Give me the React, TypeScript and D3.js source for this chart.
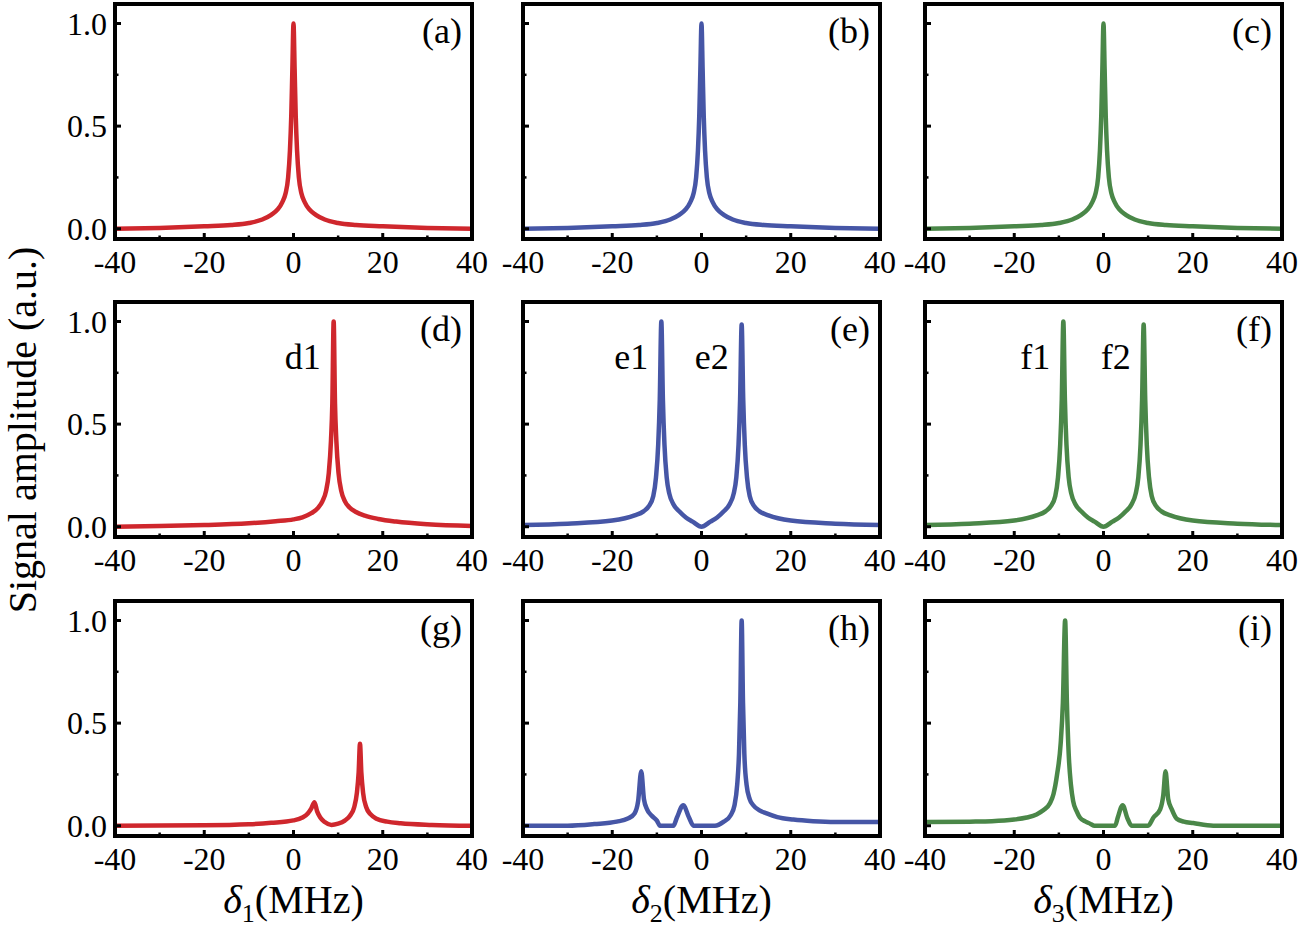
import React from 'react';
import * as d3 from 'd3';

// detuning axis, MHz
const xTicks = [-40, -20, 0, 20, 40];
const xMinorTicks = [-30, -10, 10, 30];
const yTicks = [0, 0.5, 1.0];
const yTickLabels = ['0.0', '0.5', '1.0'];
const yMinorTicks = [0.25, 0.75];

const panelLetters = ['(a)', '(b)', '(c)', '(d)', '(e)', '(f)', '(g)', '(h)', '(i)'];

// [detuning, amplitude]
const singleCenter: [number, number][] = [
  [-40, 0.0], [-30, 0.004], [-20, 0.012], [-14, 0.018], [-10, 0.028], [-7, 0.045],
  [-5, 0.068], [-3.5, 0.095], [-2.5, 0.13], [-1.8, 0.17], [-1.2, 0.25], [-0.8, 0.38],
  [-0.5, 0.55], [-0.25, 0.78], [0, 1.0], [0.25, 0.78], [0.5, 0.55], [0.8, 0.38],
  [1.2, 0.25], [1.8, 0.17], [2.5, 0.13], [3.5, 0.095], [5, 0.068], [7, 0.045],
  [10, 0.028], [14, 0.018], [20, 0.012], [30, 0.004], [40, 0.0],
];

const singleShifted: [number, number][] = [
  [-40, 0.0], [-30, 0.003], [-20, 0.008], [-10, 0.017], [-4, 0.027], [0, 0.036],
  [2, 0.046], [4, 0.066], [5.5, 0.092], [6.5, 0.125], [7.3, 0.175], [7.9, 0.26],
  [8.4, 0.42], [8.7, 0.6], [9, 1.0], [9.3, 0.6], [9.6, 0.42], [10.1, 0.26],
  [10.7, 0.175], [11.5, 0.125], [12.5, 0.095], [14, 0.072], [16, 0.054], [19, 0.038],
  [23, 0.025], [30, 0.012], [40, 0.004],
];

const doublePeak: [number, number][] = [
  [-40, 0.008], [-30, 0.015], [-20, 0.03], [-15, 0.055], [-13, 0.075], [-11.8, 0.1],
  [-10.8, 0.15], [-10.2, 0.24], [-9.7, 0.4], [-9.35, 0.62], [-9, 1.0], [-8.65, 0.62],
  [-8.3, 0.4], [-7.8, 0.24], [-7.2, 0.16], [-6.3, 0.11], [-5, 0.075], [-3.5, 0.045],
  [-2, 0.025], [0, 0.0], [2, 0.025], [3.5, 0.045], [5, 0.075], [6.3, 0.11],
  [7.2, 0.16], [7.8, 0.24], [8.3, 0.4], [8.65, 0.62], [9, 0.985], [9.35, 0.62],
  [9.7, 0.4], [10.2, 0.24], [10.8, 0.15], [11.8, 0.1], [13, 0.075], [15, 0.055],
  [20, 0.03], [30, 0.015], [40, 0.008],
];

const tripleG: [number, number][] = [
  [-40, 0], [-20, 0.002], [-10, 0.007], [-5, 0.014], [0, 0.026], [2, 0.04],
  [3.2, 0.06], [4, 0.085], [4.7, 0.115], [5.3, 0.07], [6, 0.04], [7, 0.018],
  [8.5, 0.004], [10, 0.01], [11.5, 0.025], [12.7, 0.05], [13.6, 0.09], [14.2, 0.16],
  [14.6, 0.26], [14.9, 0.4], [15.2, 0.26], [15.6, 0.16], [16.3, 0.09], [17.3, 0.055],
  [18.6, 0.034], [21, 0.02], [24, 0.012], [31, 0.004], [40, 0],
];

const tripleH: [number, number][] = [
  [-40, 0], [-30, 0], [-24, 0.008], [-19, 0.02], [-16.5, 0.035], [-15, 0.06],
  [-14.2, 0.12], [-13.5, 0.265], [-12.9, 0.13], [-12.2, 0.08], [-11.2, 0.05], [-10, 0.025],
  [-9.3, 0.0], [-6.3, 0.0], [-5.5, 0.04], [-4.1, 0.1], [-2.8, 0.04], [-1.8, 0.0],
  [3, 0.0], [5, 0.02], [6.5, 0.05], [7.4, 0.1], [8, 0.2], [8.4, 0.35], [8.7, 0.6],
  [9, 1.0], [9.3, 0.6], [9.6, 0.35], [10.1, 0.2], [10.8, 0.13], [11.6, 0.1], [13, 0.075],
  [14.6, 0.06], [17, 0.042], [20.6, 0.03], [25, 0.022], [30, 0.018], [40, 0.018],
];

const tripleI: [number, number][] = [
  [-40, 0.018], [-30, 0.02], [-25, 0.022], [-20, 0.03], [-17.2, 0.04], [-15, 0.055],
  [-13.5, 0.075], [-12, 0.11], [-11.2, 0.155], [-10.4, 0.25], [-9.6, 0.4], [-9.1, 0.6],
  [-8.6, 1.0], [-8.2, 0.6], [-7.8, 0.35], [-7.3, 0.2], [-6.8, 0.12], [-6, 0.07],
  [-5.3, 0.04], [-4, 0.02], [-3, 0.01], [-2, 0.0], [2.6, 0.0], [3.2, 0.04], [4.3, 0.1],
  [5.3, 0.04], [6.3, 0.0], [10, 0.0], [11.2, 0.04], [12.7, 0.08], [13.4, 0.15],
  [13.9, 0.265], [14.5, 0.13], [15.3, 0.08], [16.4, 0.034], [18, 0.02], [20.1, 0.013],
  [24.6, 0.0], [40, 0.0],
];

const rowSeries = [
  [singleCenter, singleCenter, singleCenter],
  [singleShifted, doublePeak, doublePeak],
  [tripleG, tripleH, tripleI],
];

// peak tags in the middle row: [text, detuning]
const rowTwoTags: [string, number][][] = [
  [['d1', 9]],
  [['e1', -9], ['e2', 9]],
  [['f1', -9], ['f2', 9]],
];

const colColors = ['#cf272d', '#4656a6', '#4a8748'];
const axisNames = ['1', '2', '3'];

const FONT = '"Liberation Serif", "Times New Roman", serif';
const colLeft = [115, 523, 925];
const rowTop = [4, 302, 601];
const W = 357;
const H = 235;

type PanelProps = {
  left: number;
  top: number;
  data: [number, number][];
  color: string;
  letter: string;
  yLabels: boolean;
  tags?: [string, number][];
};

const Panel = ({ left, top, data, color, letter, yLabels, tags }: PanelProps) => {
  const x = d3.scaleLinear().domain([-40, 40]).range([left, left + W]);
  const y = d3.scaleLinear().domain([-0.05, 1.095]).range([top + H, top]);
  const line = d3
    .line<[number, number]>()
    .x((d) => x(d[0]))
    .y((d) => y(d[1]))
    .curve(d3.curveMonotoneX);
  const bottom = top + H;

  return (
    <g>
      <defs>
        <clipPath id={`clip-${letter}`}>
          <rect x={left} y={top} width={W} height={H} />
        </clipPath>
      </defs>
      <path
        d={line(data) ?? ''}
        fill="none"
        stroke={color}
        strokeWidth={4.5}
        strokeLinejoin="round"
        clipPath={`url(#clip-${letter})`}
      />
      {xTicks.slice(1, -1).map((t) => (
        <line key={t} x1={x(t)} x2={x(t)} y1={bottom} y2={bottom - 6} stroke="#000" strokeWidth={3} />
      ))}
      {xMinorTicks.map((t) => (
        <line key={t} x1={x(t)} x2={x(t)} y1={bottom} y2={bottom - 3.5} stroke="#000" strokeWidth={2.5} />
      ))}
      {yTicks.map((t) => (
        <line key={t} x1={left} x2={left + 6} y1={y(t)} y2={y(t)} stroke="#000" strokeWidth={3} />
      ))}
      {yMinorTicks.map((t) => (
        <line key={t} x1={left} x2={left + 3.5} y1={y(t)} y2={y(t)} stroke="#000" strokeWidth={2.5} />
      ))}
      <rect x={left} y={top} width={W} height={H} fill="none" stroke="#000" strokeWidth={4} />
      {xTicks.map((t) => (
        <text key={t} x={x(t)} y={bottom + 34} textAnchor="middle" fontSize={32} fontFamily={FONT}>
          {t}
        </text>
      ))}
      {yLabels &&
        yTicks.map((t, i) => (
          <text key={t} x={left - 8} y={y(t)} dy="0.35em" textAnchor="end" fontSize={32} fontFamily={FONT}>
            {yTickLabels[i]}
          </text>
        ))}
      <text x={left + W - 10} y={top + 39} textAnchor="end" fontSize={36} fontFamily={FONT}>
        {letter}
      </text>
      {tags?.map(([txt, at]) => (
        <text key={txt} x={x(at) - 13} y={top + 67} textAnchor="end" fontSize={36} fontFamily={FONT}>
          {txt}
        </text>
      ))}
    </g>
  );
};

export default function App() {
  return (
    <svg
      width={1300}
      height={927}
      style={{ position: 'absolute', left: 0, top: 0, background: '#fff' }}
    >
      {rowTop.map((top, r) =>
        colLeft.map((left, c) => (
          <Panel
            key={`${r}-${c}`}
            left={left}
            top={top}
            data={rowSeries[r][c]}
            color={colColors[c]}
            letter={panelLetters[r * 3 + c]}
            yLabels={c === 0}
            tags={r === 1 ? rowTwoTags[c] : undefined}
          />
        ))
      )}
      {colLeft.map((left, c) => (
        <text key={c} x={left + W / 2} y={913} textAnchor="middle" fontSize={40} fontFamily={FONT}>
          <tspan fontStyle="italic">δ</tspan>
          <tspan fontSize={26} dy={9}>{axisNames[c]}</tspan>
          <tspan dy={-9}>(MHz)</tspan>
        </text>
      ))}
      <text
        transform={`translate(36, 430) rotate(-90)`}
        textAnchor="middle"
        fontSize={40}
        fontFamily={FONT}
      >
        Signal amplitude (a.u.)
      </text>
    </svg>
  );
}
